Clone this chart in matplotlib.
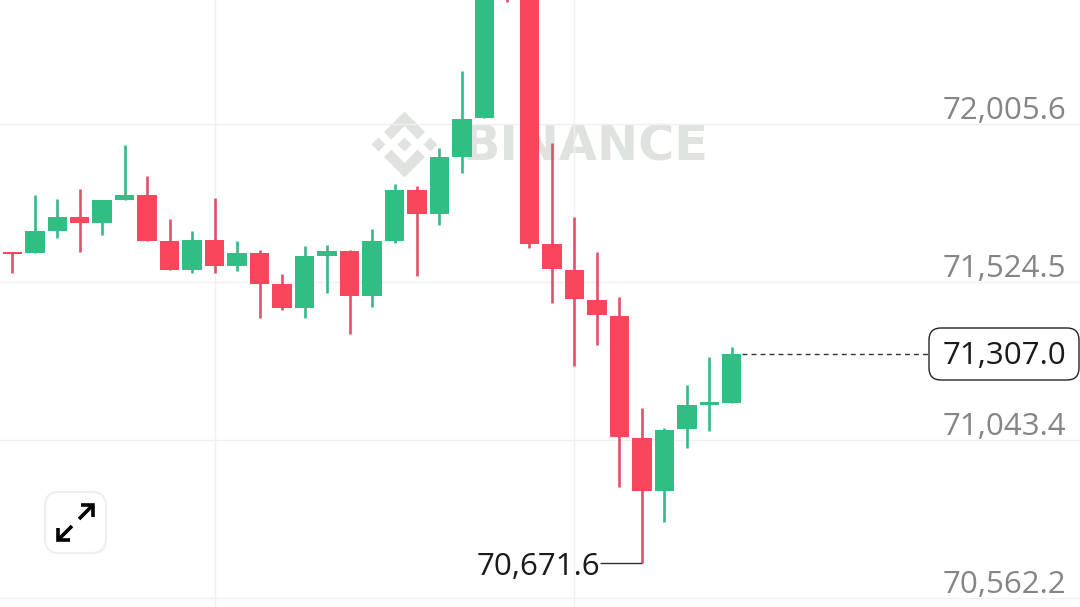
import matplotlib
matplotlib.use("Agg")
import matplotlib.pyplot as plt
from matplotlib.patches import FancyBboxPatch, Polygon
from matplotlib.lines import Line2D

opens = [71617.1, 71612.3, 71681.0, 71722.7, 71705.4, 71774.4, 71788.7, 71648.8, 71560.6, 71653.6, 71574.5,
         71614.1, 71518.0, 71445.0, 71603.1, 71618.4, 71481.5, 71649.7, 71803.9, 71732.7, 71905.2, 72022.9,
         72480.0, 72430.0, 71639.6, 71561.5, 71471.1, 71422.5, 71051.3, 70888.3, 71076.9, 71150.8, 71156.9]
highs = [71617.1, 71789.6, 71778.4, 71807.0, 71774.4, 71942.6, 71847.4, 71717.5, 71681.0, 71780.5, 71649.7,
         71622.3, 71549.3, 71634.5, 71637.5, 71622.3, 71685.3, 71823.1, 71817.0, 71932.6, 72167.7, 72520.0,
         72560.0, 72440.0, 71947.8, 71722.7, 71617.1, 71478.4, 71140.8, 71080.8, 71212.6, 71297.7, 71326.3]
lows = [71551.4, 71612.3, 71657.9, 71615.3, 71667.9, 71774.4, 71649.7, 71560.6, 71553.3, 71553.3, 71558.4,
        71414.6, 71438.9, 71414.6, 71492.4, 71366.8, 71448.0, 71643.6, 71542.3, 71698.4, 71857.5, 72022.9,
        72376.6, 71629.3, 71460.2, 71269.4, 71333.3, 70900.4, 70671.6, 70795.8, 71019.1, 71070.8, 71156.9]
closes = [71609.2, 71680.1, 71721.8, 71705.4, 71774.4, 71788.7, 71649.7, 71560.6, 71653.6, 71574.5, 71614.1,
          71518.9, 71445.0, 71603.1, 71618.4, 71481.5, 71648.8, 71803.9, 71732.7, 71904.3, 72020.8, 72480.0,
          72430.0, 71639.6, 71563.6, 71472.3, 71424.6, 71053.5, 70888.3, 71075.7, 71149.9, 71159.0, 71307.0]
price_ticks = [72005.6, 71524.5, 71043.4, 70562.2]
price_labels = ["72,005.6", "71,524.5", "71,043.4", "70,562.2"]
time_grid = [9, 25]
last_price = 71307.0
last_label = "71,307.0"
low_price = 70671.6
low_label = "70,671.6"
low_index = 28

GREEN, RED = "#31BE84", "#F9465D"
WICK_G, WICK_R = "#35B98A", "#E2506A"
GRID = "#F0F0F0"
FONT = ["Open Sans", "DejaVu Sans"]
LABEL_SIZE = 22.5

fig = plt.figure(figsize=(10.8, 6.07), dpi=100, facecolor="white")

# Pixel-space layer behind the chart: watermark
bg = fig.add_axes([0, 0, 1, 1], zorder=0)
bg.set_xlim(0, 1080); bg.set_ylim(607, 0); bg.axis("off")
wm = "#DFE3DF"
cx, cy = 404.5, 144.5
def diamond(x, y, r):
    bg.add_patch(Polygon([(x, y - r), (x + r, y), (x, y + r), (x - r, y)], fc=wm, ec="none"))
diamond(cx, cy, 7); diamond(cx - 26, cy, 7); diamond(cx + 26, cy, 7)
for s in (1, -1):
    bg.add_patch(Polygon([(cx, cy - s * 33), (cx + 20.5, cy - s * 12.5), (cx + 13, cy - s * 5),
                          (cx, cy - s * 18.5), (cx - 13, cy - s * 5), (cx - 20.5, cy - s * 12.5)],
                         fc=wm, ec="none"))
bg.text(585.5, 146.5, "BINANCE", ha="center", va="center", fontsize=35.5, fontweight="bold",
        family="DejaVu Sans", color=wm)

# Chart layer
ax = fig.add_axes([0, 0, 1, 1], zorder=1)
ax.patch.set_alpha(0)
ax.set_xlim(-0.547, 47.49)
ax.set_ylim(70536.3, 72382.8)
for sp in ax.spines.values():
    sp.set_visible(False)
ax.set_xticks([]); ax.set_yticks([])

for p in price_ticks:
    ax.axhline(p, color=GRID, lw=1.0, zorder=0.5)
for t in time_grid:
    ax.axvline(t, color=GRID, lw=1.0, zorder=0.5)

for i, (o, h, l, c) in enumerate(zip(opens, highs, lows, closes)):
    up = c >= o
    ax.vlines(i, l, h, color=WICK_G if up else WICK_R, lw=1.9, zorder=2, capstyle="butt")
    ax.bar(i, abs(c - o), bottom=min(o, c), width=0.867, color=GREEN if up else RED, lw=0, zorder=3)

for p, lab in zip(price_ticks, price_labels):
    ax.annotate(lab, xy=(1066 / 1080, p), xycoords=("axes fraction", "data"), xytext=(0, 9.5),
                textcoords="offset points", ha="right", va="center", fontsize=LABEL_SIZE, color="#858585", family=FONT)

# last price marker
ax.hlines(last_price, 32.45, 40.78, color="#333333", lw=1.0, linestyles=(0, (3.5, 3)), zorder=2)

# low marker
ax.annotate(low_label, xy=(low_index, low_price), xytext=(-30, -3), textcoords="offset points",
            ha="right", va="center", fontsize=LABEL_SIZE, color="#1a1a1a", family=FONT)
ax.hlines(low_price, low_index - 1.87, low_index, color="#333333", lw=1.0, zorder=2)

# Pixel-space layer above the chart: price tag and expand button
ov = fig.add_axes([0, 0, 1, 1], zorder=2)
ov.set_xlim(0, 1080); ov.set_ylim(607, 0); ov.axis("off"); ov.patch.set_alpha(0)
ov.add_patch(FancyBboxPatch((929, 328), 150, 52, boxstyle="round,pad=0,rounding_size=12",
                            fc="white", ec="#222222", lw=1.0))
ov.text(1066, 356, last_label, ha="right", va="center", fontsize=LABEL_SIZE, color="#1a1a1a", family=FONT)

ov.add_patch(FancyBboxPatch((45, 492), 61, 61, boxstyle="round,pad=0,rounding_size=14",
                            fc="white", ec="#EEEEEE", lw=1.5))
arrow_kw = dict(color="black", lw=2.6, solid_capstyle="butt", solid_joinstyle="miter")
ov.add_line(Line2D([79, 93], [519, 505], **arrow_kw))
ov.add_line(Line2D([81, 93, 93], [505, 505, 517], **arrow_kw))
ov.add_line(Line2D([72, 58], [526, 540], **arrow_kw))
ov.add_line(Line2D([58, 58, 70], [528, 540, 540], **arrow_kw))

fig.savefig("out.png", dpi=100)
